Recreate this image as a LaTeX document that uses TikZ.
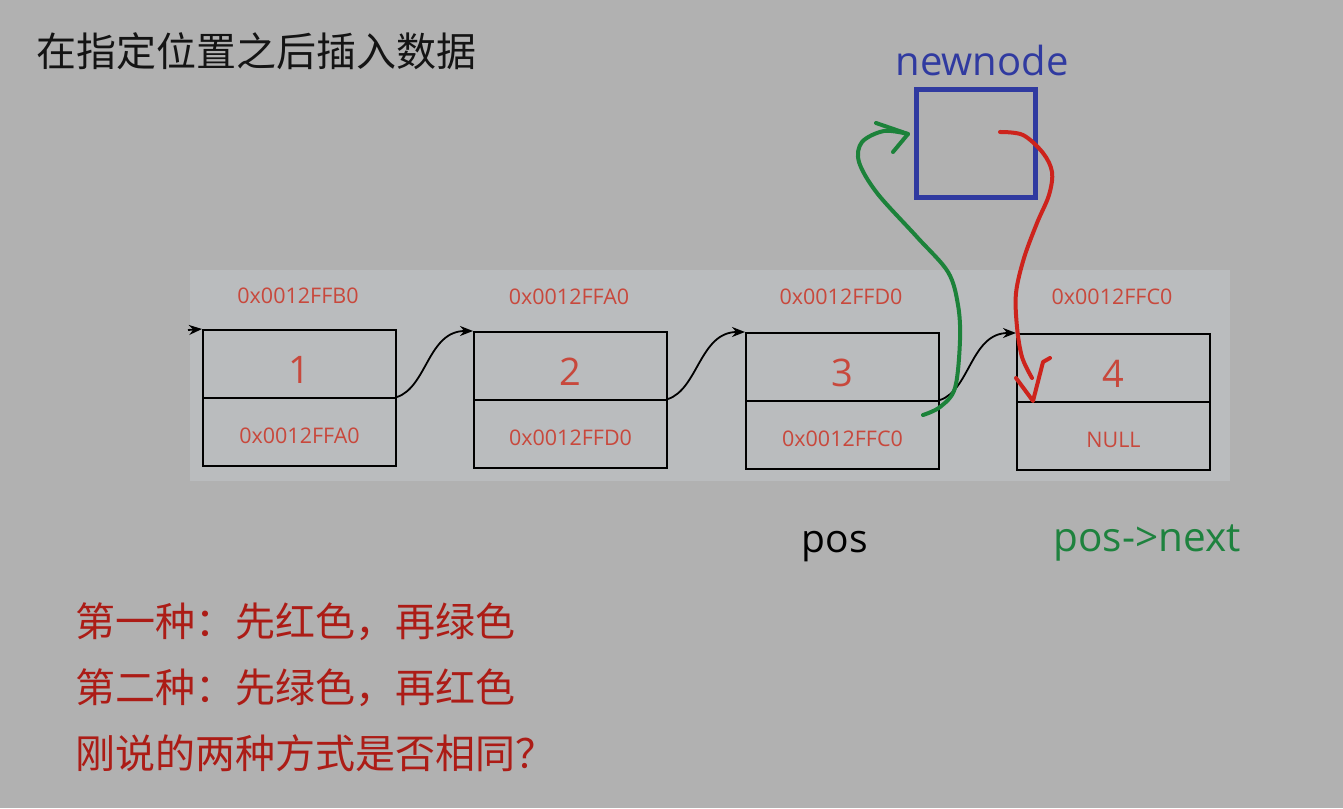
\documentclass[tikz,border=0pt]{standalone}
\usepackage{fontspec}
\setmainfont{Open Sans}
\newfontfamily\cjk{Noto Sans CJK SC}
\usetikzlibrary{arrows.meta,calc}
\definecolor{bgc}{RGB}{177,177,177}
\definecolor{panelc}{RGB}{186,188,190}
\definecolor{addrred}{RGB}{200,72,60}
\definecolor{textred}{RGB}{172,28,22}
\definecolor{penred}{RGB}{205,35,28}
\definecolor{pengreen}{RGB}{28,130,58}
\definecolor{boxblue}{RGB}{48,58,160}
\definecolor{txtgreen}{RGB}{30,130,62}
\tikzset{
  cell/.style={draw=black, line width=2pt, minimum width=193pt, minimum height=68pt, inner sep=0pt, anchor=north west, text=addrred},
  bignum/.style={font=\fontsize{38}{40}\selectfont, text height=39pt, text depth=0pt},
  smalltxt/.style={font=\fontsize{21.5}{24}\selectfont, text height=23.5pt, text depth=0pt},
  addr/.style={text=addrred, font=\fontsize{21.5}{24}\selectfont, inner sep=0pt},
  link/.style={draw=black, line width=1.8pt, -{Stealth[length=13pt,width=10pt]}},
  gpen/.style={draw=pengreen, line width=4pt, line cap=round, line join=round},
  rpen/.style={draw=penred, line width=4pt, line cap=round, line join=round},
  cjktxt/.style={font=\cjk\fontsize{40}{42}\selectfont, inner sep=0pt, anchor=west}
}
\begin{document}
\begin{tikzpicture}[x=1pt,y=-1pt]
\fill[bgc] (0,0) rectangle (1343,808);
\useasboundingbox (0,0) rectangle (1343,808);
\fill[panelc] (190,270) rectangle (1230,481);

% title
\node[cjktxt, text={rgb,255:red,20;green,20;blue,20}] (title) at (36,51) {在指定位置之后插入数据};

% list nodes
\node[cell, bignum] (n1t) at (202,329) {1};
\node[cell, smalltxt] (n1b) at (202,397) {0x0012FFA0};
\node[cell, bignum] (n2t) at (473,331) {2};
\node[cell, smalltxt] (n2b) at (473,399) {0x0012FFD0};
\node[cell, bignum] (n3t) at (745,332) {3};
\node[cell, smalltxt] (n3b) at (745,400) {0x0012FFC0};
\node[cell, bignum] (n4t) at (1016,333) {4};
\node[cell, smalltxt] (n4b) at (1016,401) {NULL};

% addresses above
\node[addr] (a1) at (298,296) {0x0012FFB0};
\node[addr] (a2) at (569,297) {0x0012FFA0};
\node[addr] (a3) at (841,297) {0x0012FFD0};
\node[addr] (a4) at (1112,297) {0x0012FFC0};

% links
\coordinate (head) at (188,330);
\draw[link] (head) -- (n1t.north west);
\draw[link] (n1b.north east) .. controls +(30,-10) and +(-45,0) .. (n2t.north west);
\draw[link] (n2b.north east) .. controls +(30,-10) and +(-45,0) .. (n3t.north west);
\draw[link] (n3b.north east) .. controls +(30,-10) and +(-45,0) .. (n4t.north west);

% newnode
\node[draw=boxblue, line width=5pt, minimum width=119pt, minimum height=108pt, inner sep=0pt, anchor=north west] (nn) at (914,87) {};
\node[text=boxblue, font=\fontsize{40}{42}\selectfont, inner sep=0pt] (nnl) at (982,60) {newnode};

% green pen stroke
\coordinate (gs) at (923,415);
\coordinate (ge) at (908,134);
\draw[gpen] plot[smooth, tension=0.55] coordinates {(gs) (940,407) (955,388) (960,340) (958,305) (948,272) (917,237) (877,193) (859,162) (862,142) (884,131) (ge)};
\draw[gpen] (876,123) -- (ge) -- (893,152);

% red pen stroke
\coordinate (rs) at (1000,132);
\coordinate (re) at (1032,378);
\draw[rpen] plot[smooth, tension=0.55] coordinates {(rs) (1023,135) (1043,153) (1052,172) (1049,195) (1037,223) (1024,258) (1016,293) (1017,327) (1022,357) (re)};
\draw[rpen] (1016,378) -- (1033,401) -- (1043,362) -- (1050,358);

% labels
\node[font=\fontsize{39}{42}\selectfont, inner sep=0pt] (pos) at (835,547) {pos};
\node[text=txtgreen, font=\fontsize{40.5}{42}\selectfont, inner sep=0pt] (posnext) at (1147,543) {pos->next};

% bottom text
\node[cjktxt, text=textred] (l1) at (75,622) {第一种：先红色，再绿色};
\node[cjktxt, text=textred] (l2) at (75,688) {第二种：先绿色，再红色};
\node[cjktxt, text=textred] (l3) at (75,753) {刚说的两种方式是否相同？};
\end{tikzpicture}
\end{document}
